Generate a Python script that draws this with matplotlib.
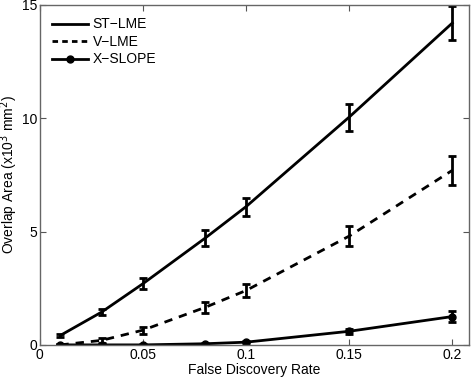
import matplotlib.pyplot as plt
from matplotlib.lines import Line2D

plt.rcParams['font.family'] = ['Liberation Sans', 'DejaVu Sans']

fdr = [0.01, 0.03, 0.05, 0.08, 0.1, 0.15, 0.2]

st_lme = [0.42, 1.45, 2.7, 4.7, 6.1, 10.05, 14.2]
st_err = [0.08, 0.15, 0.25, 0.35, 0.4, 0.6, 0.75]

v_lme = [0.0, 0.2, 0.65, 1.65, 2.4, 4.8, 7.7]
v_err = [0.02, 0.1, 0.15, 0.25, 0.3, 0.45, 0.65]

x_slope = [0.0, 0.0, 0.0, 0.05, 0.12, 0.6, 1.25]
x_err = [0.02, 0.02, 0.02, 0.03, 0.04, 0.1, 0.25]

labels = ['ST\u2212LME', 'V\u2212LME', 'X\u2212SLOPE']

fig = plt.figure(figsize=(4.74, 3.79), dpi=100)
ax = fig.add_axes([0.084, 0.09, 0.905, 0.897])

ax.errorbar(fdr, st_lme, yerr=st_err, color='k', lw=2, capsize=3,
            capthick=2, elinewidth=2)
ax.errorbar(fdr, v_lme, yerr=v_err, color='k', lw=2, ls='--',
            dashes=(3, 2.5), capsize=3, capthick=2, elinewidth=2)
ax.errorbar(fdr, x_slope, yerr=x_err, color='k', lw=2, marker='o',
            ms=5, capsize=3, capthick=2, elinewidth=2)

ax.set_xlim(0, 0.208)
ax.set_ylim(0, 15)
ax.set_xticks([0, 0.05, 0.1, 0.15, 0.2])
ax.set_xticklabels(['0', '0.05', '0.1', '0.15', '0.2'])
ax.set_yticks([0, 5, 10, 15])
ax.tick_params(direction='in', top=True, right=True, labelsize=10,
               length=4, color='#555555', pad=2)
for s in ax.spines.values():
    s.set_color('#666666')
    s.set_linewidth(1)

ax.set_xlabel('False Discovery Rate', fontsize=10, labelpad=1)
ax.set_ylabel('Overlap Area (x10$^3$ mm$^2$)', fontsize=10, labelpad=1)

handles = [Line2D([], [], color='k', lw=2),
           Line2D([], [], color='k', lw=2, ls='--', dashes=(2, 1.5)),
           Line2D([], [], color='k', lw=2, marker='o', ms=5)]
ax.legend(handles, labels, loc='upper left', frameon=False, fontsize=10,
          handlelength=2.6, handletextpad=0.3, labelspacing=0.25,
          borderaxespad=0.5)

fig.savefig('out.png', dpi=100)
